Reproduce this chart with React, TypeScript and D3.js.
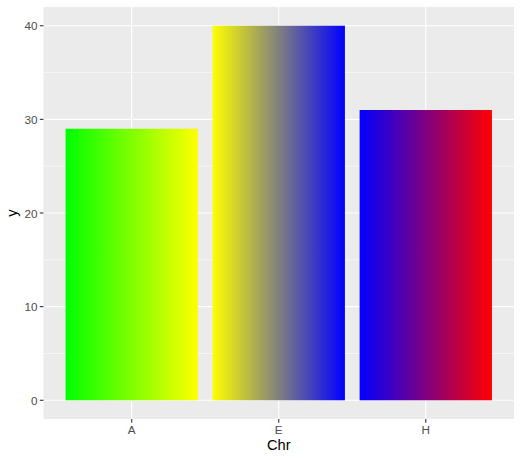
import React from "react";
import * as d3 from "d3";

const categories = ["A", "E", "H"];
const values = [29, 40, 31];
const gradientStops = [
  ["#00FF00", "#FFFF00"],
  ["#FFFF00", "#0000FF"],
  ["#0000FF", "#FF0000"],
];
const yTicks = [0, 10, 20, 30, 40];
const yMinor = [5, 15, 25, 35];

const W = 521;
const H = 460;
const panel = { left: 43.5, top: 7, right: 514, bottom: 419 };

export default function App() {
  const y = d3.scaleLinear().domain([-2, 42]).range([panel.bottom, panel.top]);
  // discrete axis with 0.6 expansion each side
  const xc = d3
    .scaleLinear()
    .domain([0.4, categories.length + 0.6])
    .range([panel.left, panel.right]);
  const barW = 0.9;
  const tickCol = "#333333";
  const labCol = "#4D4D4D";
  const font = "Liberation Sans, Arial, sans-serif";
  return (
    <svg width={W} height={H} style={{ position: "absolute", left: 0, top: 0 }}>
      <rect x={0} y={0} width={W} height={H} fill="white" />
      <defs>
        {categories.map((c, i) => (
          <linearGradient key={c} id={`g${i}`} x1="0" x2="1" y1="0" y2="0">
            <stop offset="0" stopColor={gradientStops[i][0]} />
            <stop offset="1" stopColor={gradientStops[i][1]} />
          </linearGradient>
        ))}
      </defs>
      <rect
        x={panel.left}
        y={panel.top}
        width={panel.right - panel.left}
        height={panel.bottom - panel.top}
        fill="#EBEBEB"
      />
      {yMinor.map((t) => (
        <line key={`m${t}`} x1={panel.left} x2={panel.right} y1={y(t)} y2={y(t)} stroke="white" strokeWidth={0.55} />
      ))}
      {yTicks.map((t) => (
        <line key={`M${t}`} x1={panel.left} x2={panel.right} y1={y(t)} y2={y(t)} stroke="white" strokeWidth={1.1} />
      ))}
      {categories.map((c, i) => (
        <line key={`v${c}`} x1={xc(i + 1)} x2={xc(i + 1)} y1={panel.top} y2={panel.bottom} stroke="white" strokeWidth={1.1} />
      ))}
      {categories.map((c, i) => (
        <rect
          key={`b${c}`}
          x={xc(i + 1 - barW / 2)}
          y={y(values[i])}
          width={xc(i + 1 + barW / 2) - xc(i + 1 - barW / 2)}
          height={y(0) - y(values[i])}
          fill={`url(#g${i})`}
        />
      ))}
      {yTicks.map((t) => (
        <g key={`yt${t}`}>
          <line x1={panel.left - 3.7} x2={panel.left} y1={y(t)} y2={y(t)} stroke={tickCol} strokeWidth={1.1} />
          <text
            x={panel.left - 6}
            y={y(t)}
            textAnchor="end"
            dominantBaseline="central"
            fontFamily={font}
            fontSize={11.7}
            fill={labCol}
          >
            {t}
          </text>
        </g>
      ))}
      {categories.map((c, i) => (
        <g key={`xt${c}`}>
          <line x1={xc(i + 1)} x2={xc(i + 1)} y1={panel.bottom} y2={panel.bottom + 3.7} stroke={tickCol} strokeWidth={1.1} />
          <text
            x={xc(i + 1)}
            y={panel.bottom + 14.5}
            textAnchor="middle"
            fontFamily={font}
            fontSize={11.7}
            fill={labCol}
          >
            {c}
          </text>
        </g>
      ))}
      <text
        x={(panel.left + panel.right) / 2}
        y={450}
        textAnchor="middle"
        fontFamily={font}
        fontSize={14.67}
        fill="black"
      >
        Chr
      </text>
      <text
        transform={`translate(17,${(panel.top + panel.bottom) / 2}) rotate(-90)`}
        textAnchor="middle"
        fontFamily={font}
        fontSize={14.67}
        fill="black"
      >
        y
      </text>
    </svg>
  );
}
